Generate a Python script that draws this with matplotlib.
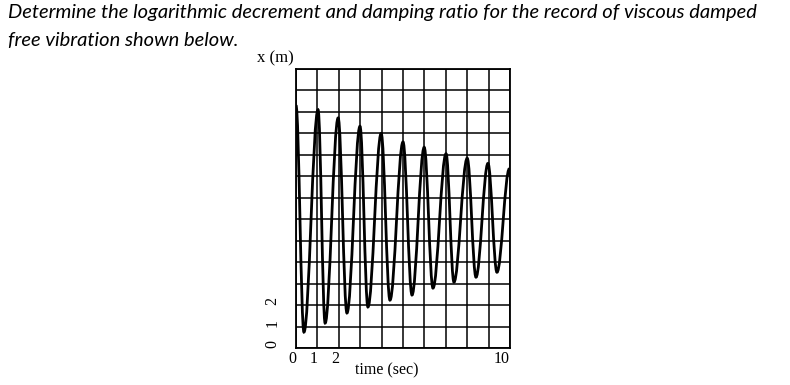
"""Damped free vibration record (recreated)"""
import matplotlib
matplotlib.use("Agg")
import matplotlib.pyplot as plt
from matplotlib.path import Path
from matplotlib.patches import PathPatch

# ── turning points ──
peak_t = [0.0, 1.03, 1.97, 2.99, 3.98, 5.0, 5.99, 7.01, 8.0, 8.97, 9.97]
peak_x = [11.3, 11.1, 10.72, 10.33, 10.0, 9.6, 9.35, 9.05, 8.84, 8.6, 8.35]
trough_t = [0.37, 1.36, 2.38, 3.36, 4.39, 5.42, 6.40, 7.38, 8.41, 9.39]
trough_x = [0.74, 1.16, 1.63, 1.91, 2.23, 2.47, 2.79, 3.07, 3.30, 3.53]

x_ticks = [0, 1, 2, 10]
y_ticks = [0, 1, 2]

# alternate peaks / troughs in time order
pts = []
for i in range(len(peak_t)):
    pts.append((peak_t[i], peak_x[i]))
    if i < len(trough_t):
        pts.append((trough_t[i], trough_x[i]))

# smooth curve through turning points (cubic bezier, flat tangents)
k = 0.3642
verts = [pts[0]]
codes = [Path.MOVETO]
for (t0, y0), (t1, y1) in zip(pts[:-1], pts[1:]):
    dt = t1 - t0
    verts += [(t0 + k * dt, y0), (t1 - k * dt, y1), (t1, y1)]
    codes += [Path.CURVE4] * 3

fig = plt.figure(figsize=(7.9, 3.85), dpi=100)

fig.text(0.010, 0.968, "Determine the logarithmic decrement and damping ratio for the record of viscous damped",
         fontsize=14.5, style="italic", family="Lato", va="center", ha="left")
fig.text(0.010, 0.895, "free vibration shown below.",
         fontsize=14.5, style="italic", family="Lato", va="center", ha="left")

ax = fig.add_axes([0.3747, 0.0961, 0.2709, 0.7247])
ax.set_xlim(0, 10)
ax.set_ylim(0, 13)
ax.set_xticks(range(0, 11))
ax.set_yticks(range(0, 14))
ax.grid(True, color="black", linewidth=1.1)
ax.set_axisbelow(True)
for s in ax.spines.values():
    s.set_linewidth(1.3)
ax.tick_params(length=0)

ax.set_xticklabels([str(v) if v in x_ticks else "" for v in range(0, 11)],
                   family="Liberation Serif", fontsize=11.5, ha="right")
ax.set_yticklabels([str(v) if v in y_ticks else "" for v in range(0, 14)],
                   family="Liberation Serif", fontsize=11.5, rotation=90, va="bottom")
ax.tick_params(axis="x", pad=2)
ax.tick_params(axis="y", pad=11)

curve = PathPatch(Path(verts, codes), fill=False, edgecolor="black", linewidth=2.0)
ax.add_patch(curve)

ax.text(0.425, -0.082, "time (sec)", transform=ax.transAxes, family="Liberation Serif",
        fontsize=11.5, ha="center", va="center")
ax.text(-0.18, 1.01, "x (m)", transform=ax.transAxes, family="Liberation Serif",
        fontsize=12, ha="left", va="bottom")

plt.savefig("out.png", dpi=100)
